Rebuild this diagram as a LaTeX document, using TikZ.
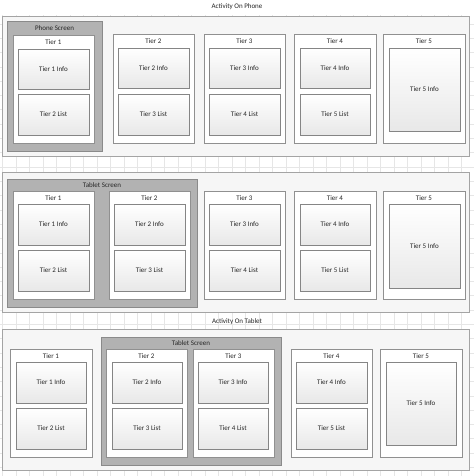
\documentclass[tikz,border=0pt]{standalone}
\usepackage{fontspec}
\setmainfont{Carlito}
\definecolor{panelline}{HTML}{A4A4A4}
\definecolor{panelfill}{HTML}{F6F6F6}
\definecolor{screenline}{HTML}{8A8A8A}
\definecolor{screenfill}{HTML}{B2B2B2}
\definecolor{tierline}{HTML}{909090}
\definecolor{itemline}{HTML}{858585}
\definecolor{itembottom}{HTML}{E8E8E8}
\definecolor{gridline}{HTML}{E6E6E6}
\newcommand\bx[7]{\node[#6, anchor=north west, minimum width={#4-#2}, minimum height={#5-#3}] (#1) at (#2,#3) {#7};}
\newcommand\tb[6]{\bx{#1}{#2}{#3}{#4}{#5}{tierbox}{}\node[lbl] (#1l) at ([yshift=-7pt]#1.north) {#6};}
\begin{document}
\begin{tikzpicture}[x=1pt,y=-1pt,
  every node/.style={inner sep=0pt, outer sep=0pt, font=\fontsize{7}{8}\selectfont, text=black!85},
  panel/.style={rectangle, draw=panelline, fill=panelfill, line width=0.9pt},
  screen/.style={rectangle, draw=screenline, fill=screenfill, line width=1pt},
  tierbox/.style={rectangle, draw=tierline, fill=white, line width=0.8pt},
  item/.style={rectangle, draw=itemline, top color=white, bottom color=itembottom, line width=0.9pt},
  lbl/.style={inner sep=0pt}]
\useasboundingbox (0,0) rectangle (474,476);
\fill[white] (0,0) rectangle (474,476);
% grid
\foreach \i in {0,...,35} {\draw[gridline, line width=0.6pt] (2.5+13.5*\i,14) -- (2.5+13.5*\i,476);}
\foreach \j in {0,...,32} {\draw[gridline, line width=0.6pt] (0,24+14.3*\j) -- (474,24+14.3*\j);}
\fill[white] (0,0) rectangle (474,15);

% ---------- Panel 1: Activity On Phone ----------
\node[lbl] (t1) at (237,7) {Activity On Phone};
\bx{P1}{2}{16}{469}{156}{panel}{}
\bx{S1}{7}{22}{102}{151}{screen}{}
\node[lbl] (S1l) at ([yshift=-6.5pt]S1.north) {Phone Screen};
\tb{A1}{13}{35}{94}{143}{Tier 1}
\bx{A1i}{18}{49}{89}{89}{item}{Tier 1 Info}
\bx{A1l2}{18}{94}{89}{135}{item}{Tier 2 List}
\tb{A2}{113}{34}{194}{143}{Tier 2}
\bx{A2i}{118}{48}{189}{88}{item}{Tier 2 Info}
\bx{A2l2}{118}{94}{189}{135}{item}{Tier 3 List}
\tb{A3}{204}{34}{285}{143}{Tier 3}
\bx{A3i}{209}{48}{280}{88}{item}{Tier 3 Info}
\bx{A3l2}{209}{94}{280}{135}{item}{Tier 4 List}
\tb{A4}{294}{34}{376}{143}{Tier 4}
\bx{A4i}{300}{48}{370}{88}{item}{Tier 4 Info}
\bx{A4l2}{300}{94}{370}{135}{item}{Tier 5 List}
\tb{A5}{383}{34}{465}{143}{Tier 5}
\bx{A5i}{389}{48}{460}{131}{item}{Tier 5 Info}

% ---------- Panel 2 ----------
\bx{P2}{2}{172}{469}{312}{panel}{}
\bx{S2}{7}{179}{197}{307}{screen}{}
\node[lbl] (S2l) at ([yshift=-6.5pt]S2.north) {Tablet Screen};
\tb{B1}{13}{191}{94}{299}{Tier 1}
\bx{B1i}{18}{204}{89}{245}{item}{Tier 1 Info}
\bx{B1l2}{18}{250}{89}{291}{item}{Tier 2 List}
\tb{B2}{109}{191}{190}{299}{Tier 2}
\bx{B2i}{114}{204}{185}{245}{item}{Tier 2 Info}
\bx{B2l2}{114}{250}{185}{291}{item}{Tier 3 List}
\tb{B3}{204}{191}{285}{299}{Tier 3}
\bx{B3i}{209}{204}{280}{245}{item}{Tier 3 Info}
\bx{B3l2}{209}{250}{280}{291}{item}{Tier 4 List}
\tb{B4}{294}{191}{376}{299}{Tier 4}
\bx{B4i}{300}{204}{370}{245}{item}{Tier 4 Info}
\bx{B4l2}{300}{250}{370}{291}{item}{Tier 5 List}
\tb{B5}{383}{191}{465}{299}{Tier 5}
\bx{B5i}{389}{204}{460}{288}{item}{Tier 5 Info}

% ---------- Panel 3: Activity On Tablet ----------
\node[lbl] (t3) at (237,322) {Activity On Tablet};
\bx{P3}{2}{329}{469}{470}{panel}{}
\bx{S3}{101}{337}{281}{465}{screen}{}
\node[lbl] (S3l) at ([yshift=-6.5pt]S3.north) {Tablet Screen};
\tb{C1}{10}{349}{92}{457}{Tier 1}
\bx{C1i}{16}{362}{86}{403}{item}{Tier 1 Info}
\bx{C1l2}{16}{408}{86}{449}{item}{Tier 2 List}
\tb{C2}{106}{349}{187}{457}{Tier 2}
\bx{C2i}{112}{362}{182}{403}{item}{Tier 2 Info}
\bx{C2l2}{112}{408}{182}{449}{item}{Tier 3 List}
\tb{C3}{193}{349}{274}{457}{Tier 3}
\bx{C3i}{198}{362}{268}{403}{item}{Tier 3 Info}
\bx{C3l2}{198}{408}{268}{449}{item}{Tier 4 List}
\tb{C4}{291}{349}{372}{457}{Tier 4}
\bx{C4i}{296}{362}{367}{403}{item}{Tier 4 Info}
\bx{C4l2}{296}{408}{367}{449}{item}{Tier 5 List}
\tb{C5}{380}{349}{462}{457}{Tier 5}
\bx{C5i}{386}{362}{456}{445}{item}{Tier 5 Info}
\end{tikzpicture}
\end{document}
